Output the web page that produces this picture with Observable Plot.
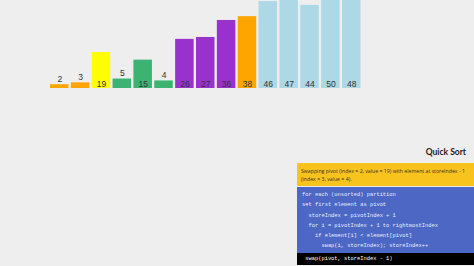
<!DOCTYPE html>
<html>
<head>
<meta charset="utf-8">
<script src="https://cdn.jsdelivr.net/npm/d3@7"></script>
<script src="https://cdn.jsdelivr.net/npm/@observablehq/plot@0.6"></script>
<style>
  html, body { margin: 0; padding: 0; background: #eeeeee; overflow: hidden; }
  #wrap { position: relative; width: 474px; height: 266px; background: #eeeeee; }
  #chart svg { display: block; background: transparent; }
  #title { position: absolute; right: 8px; top: 147px; font: bold 8.5px Lato, "Open Sans", sans-serif; color: #222; }
  #status { position: absolute; left: 297px; top: 163px; width: 177px; height: 23px; background: #f8c31d; box-sizing: border-box; padding: 4px 4px 0 4px; font: 5.2px/8px "Open Sans", sans-serif; color: #3a3020; }
  #code { position: absolute; left: 297px; top: 187px; width: 177px; height: 78px; background: #4d68c4; box-sizing: border-box; padding-top: 3px; }
  .line { font: 5.4px/10.3px "Liberation Mono", "DejaVu Sans Mono", monospace; color: #e8ecff; white-space: pre; padding-left: 5px; height: 10.3px; }
  .line.active { background: #000; color: #fff; margin-top: 1px; height: 12px; line-height: 12px; }
</style>
</head>
<body>
<div id="wrap">
  <div id="chart"></div>
  <div id="title"></div>
  <div id="status"></div>
  <div id="code"></div>
</div>
<script>
// Data
const values = [2, 3, 19, 5, 15, 4, 26, 27, 36, 38, 46, 47, 44, 50, 48];
const states = ["sorted", "sorted", "pivot", "less", "less", "less", "greater", "greater", "greater", "sorted", "unsorted", "unsorted", "unsorted", "unsorted", "unsorted"];
const stateNames = ["sorted", "pivot", "less", "greater", "unsorted"];
const stateColors = ["#ffa500", "#ffff00", "#3cb371", "#9932cc", "#add8e6"];
const titleText = "Quick Sort";
const statusText = "Swapping pivot (index = 2, value = 19) with element at storeIndex - 1 (index = 3, value = 4).";
const codeLines = [
  "for each (unsorted) partition",
  "set first element as pivot",
  "  storeIndex = pivotIndex + 1",
  "  for i = pivotIndex + 1 to rightmostIndex",
  "    if element[i] < element[pivot]",
  "      swap(i, storeIndex); storeIndex++",
  " swap(pivot, storeIndex - 1)"
];
const activeLine = 6;

const data = values.map((v, i) => ({i, v, state: states[i]}));
const labelThreshold = 10;

const plot = Plot.plot({
  width: 474,
  height: 266,
  style: {background: "transparent", fontFamily: "'Liberation Sans', Arial, sans-serif"},
  x: {type: "band", domain: d3.range(values.length), range: [50, 360.5], paddingInner: 0.113, paddingOuter: 0, round: false, axis: null},
  y: {domain: [0, 50], range: [88, -6.5], axis: null},
  color: {domain: stateNames, range: stateColors},
  marks: [
    Plot.barY(data, {x: "i", y: "v", fill: "state"}),
    Plot.text(data.filter(d => d.v >= labelThreshold), {x: "i", y: 0, text: d => String(d.v), lineAnchor: "bottom", dy: -2, fontSize: 8.5, fill: "#333"}),
    Plot.text(data.filter(d => d.v < labelThreshold), {x: "i", y: "v", text: d => String(d.v), lineAnchor: "bottom", dy: -3, fontSize: 8.5, fill: "#333"})
  ]
});
document.getElementById("chart").appendChild(plot);

document.getElementById("title").textContent = titleText;
document.getElementById("status").textContent = statusText;
const code = document.getElementById("code");
codeLines.forEach((t, k) => {
  const div = document.createElement("div");
  div.className = "line" + (k === activeLine ? " active" : "");
  div.textContent = t;
  code.appendChild(div);
});
</script>
</body>
</html>
